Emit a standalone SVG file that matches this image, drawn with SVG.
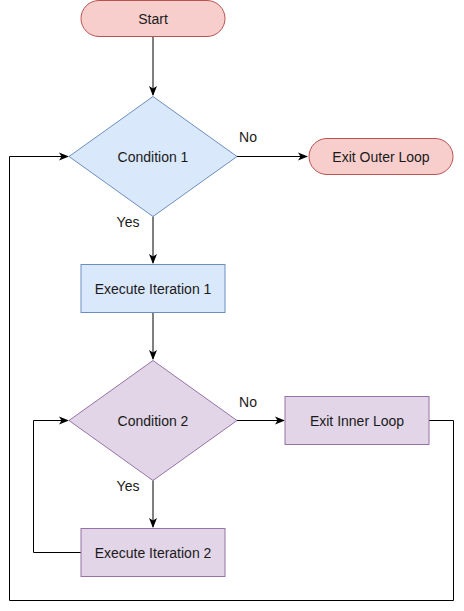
<svg xmlns="http://www.w3.org/2000/svg" width="464" height="611" viewBox="0 0 464 611">
<style>
text{font-family:"Liberation Sans",Arial,Helvetica,sans-serif;font-size:14px;fill:#1a1a1a;text-anchor:middle;dominant-baseline:central}
.red{fill:#f8cecc;stroke:#b85450;stroke-width:1}
.blue{fill:#dae8fc;stroke:#6c8ebf;stroke-width:1}
.purple{fill:#e1d5e7;stroke:#9673a6;stroke-width:1}
.edge{fill:none;stroke:#000;stroke-width:1}
</style>
<defs>
<marker id="arr" viewBox="0 0 10 10" refX="9" refY="5" markerWidth="10" markerHeight="10" markerUnits="userSpaceOnUse" orient="auto">
<path d="M0,1 L10,5 L0,9 L2.5,5 Z" fill="#000"/>
</marker>
</defs>
<g id="connectors">
<path class="edge" d="M153,36.5 V95" marker-end="url(#arr)"/>
<path class="edge" d="M237,156.5 H307" marker-end="url(#arr)"/>
<path class="edge" d="M153,216.5 V263" marker-end="url(#arr)"/>
<path class="edge" d="M153,312.5 V359" marker-end="url(#arr)"/>
<path class="edge" d="M237,420.5 H284" marker-end="url(#arr)"/>
<path class="edge" d="M153,480.5 V527" marker-end="url(#arr)"/>
<path class="edge" d="M81,552.5 H33.5 V420.5 H68" marker-end="url(#arr)"/>
<path class="edge" d="M429,420.5 H453.5 V600.5 H9.5 V156.5 H68" marker-end="url(#arr)"/>
<text x="248" y="137">No</text>
<text x="128" y="222">Yes</text>
<text x="248" y="402">No</text>
<text x="128" y="486">Yes</text>
</g>
<g id="start">
<rect class="red" x="81" y="0.5" width="144" height="36" rx="18" ry="18"/>
<text x="153" y="18.5">Start</text>
</g>
<g id="condition1">
<polygon class="blue" points="153,96.5 237,156.5 153,216.5 69,156.5"/>
<text x="153" y="156.5">Condition 1</text>
</g>
<g id="exitOuter">
<rect class="red" x="309" y="138.5" width="144" height="36" rx="18" ry="18"/>
<text x="381" y="156.5">Exit Outer Loop</text>
</g>
<g id="exec1">
<rect class="blue" x="81" y="264.5" width="144" height="48"/>
<text x="153" y="288.5">Execute Iteration 1</text>
</g>
<g id="condition2">
<polygon class="purple" points="153,360.5 237,420.5 153,480.5 69,420.5"/>
<text x="153" y="420.5">Condition 2</text>
</g>
<g id="exitInner">
<rect class="purple" x="285" y="396.5" width="144" height="48"/>
<text x="357" y="420.5">Exit Inner Loop</text>
</g>
<g id="exec2">
<rect class="purple" x="81" y="528.5" width="144" height="48"/>
<text x="153" y="552.5">Execute Iteration 2</text>
</g>
</svg>
